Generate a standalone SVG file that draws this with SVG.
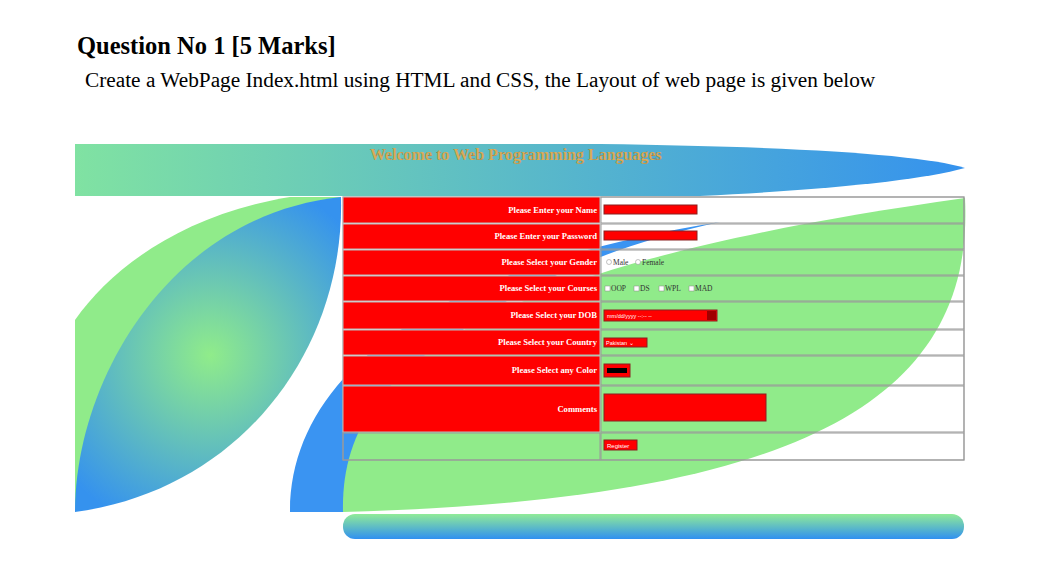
<svg xmlns="http://www.w3.org/2000/svg" width="1063" height="566" viewBox="0 0 1063 566">
<defs>
<linearGradient id="hd" x1="0" y1="0" x2="1" y2="0"><stop offset="0" stop-color="#80e2a2"/><stop offset="1" stop-color="#3592ee"/></linearGradient>
<linearGradient id="bar" x1="0" y1="0" x2="0" y2="1"><stop offset="0" stop-color="#90eb98"/><stop offset="1" stop-color="#3090f0"/></linearGradient>
<radialGradient id="rg" cx="210" cy="355" r="185" gradientUnits="userSpaceOnUse"><stop offset="0" stop-color="#90ec8a"/><stop offset="1" stop-color="#3592ee"/></radialGradient>
<style>
.t{font-family:"Liberation Serif",serif}
.lb{font-family:"Liberation Serif",serif;font-weight:bold;font-size:8.6px;fill:#fff;text-anchor:end}
.rt{font-family:"Liberation Serif",serif;font-size:7.5px;fill:#333}
.red{fill:#ff0000;stroke:#bbb;stroke-width:1}
.cell{fill:none;stroke:#999;stroke-width:1}
.inp{fill:#ff0000;stroke:#8a2020;stroke-width:1}
</style>
</defs>
<rect width="1063" height="566" fill="#fff"/>
<text class="t" x="77" y="54" font-size="24.5" font-weight="bold">Question No 1 [5 Marks]</text>
<text class="t" x="85" y="87" font-size="21.3">Create a WebPage Index.html using HTML and CSS, the Layout of web page is given below</text>
<path d="M75,144 L600,144 Q900,148 965,168 Q900,186 700,196 L75,196 Z" fill="url(#hd)"/>
<text class="t" x="370" y="160" font-size="16" font-weight="bold" fill="#dcae58" stroke="#7a5a30" stroke-width="0.2">Welcome to Web Programming Languages</text>
<path d="M341,197 L290,197 C180,215 110,270 75,320 L75,512 Z" fill="#90eb8a"/>
<path d="M341,197 C170,215 75,380 75,512 C240,490 345,350 341,197 Z" fill="url(#rg)"/>
<path d="M290,512 C290,380 420,270 720,222 C500,270 360,380 343,512 Z" fill="#3a94f2"/>
<path d="M343,512 C340,380 450,270 965,198 C975,400 800,500 343,512 Z" fill="#90eb8a"/>
<rect x="343" y="514" width="621" height="25" rx="12" fill="url(#bar)"/>
<g id="table">
<rect class="cell" x="343" y="197" width="621" height="263"/>
<rect class="red" x="343" y="197" width="257" height="26"/>
<rect class="red" x="343" y="224" width="257" height="25"/>
<rect class="red" x="343" y="250" width="257" height="25"/>
<rect class="red" x="343" y="276" width="257" height="25"/>
<rect class="red" x="343" y="302" width="257" height="27"/>
<rect class="red" x="343" y="330" width="257" height="25"/>
<rect class="red" x="343" y="356" width="257" height="29"/>
<rect class="red" x="343" y="386" width="257" height="46"/>
<rect class="cell" x="343" y="433" width="257" height="27"/>
<rect class="cell" x="601" y="197" width="363" height="26"/>
<rect class="cell" x="601" y="224" width="363" height="25"/>
<rect class="cell" x="601" y="250" width="363" height="25"/>
<rect class="cell" x="601" y="276" width="363" height="25"/>
<rect class="cell" x="601" y="302" width="363" height="27"/>
<rect class="cell" x="601" y="330" width="363" height="25"/>
<rect class="cell" x="601" y="356" width="363" height="29"/>
<rect class="cell" x="601" y="386" width="363" height="46"/>
<rect class="cell" x="601" y="433" width="363" height="27"/>
<text class="lb" x="597" y="213">Please Enter your Name</text>
<text class="lb" x="597" y="239">Please Enter your Password</text>
<text class="lb" x="597" y="265">Please Select your Gender</text>
<text class="lb" x="597" y="291">Please Select your Courses</text>
<text class="lb" x="597" y="318">Please Select your DOB</text>
<text class="lb" x="597" y="345">Please Select your Country</text>
<text class="lb" x="597" y="373">Please Select any Color</text>
<text class="lb" x="597" y="412">Comments</text>
<rect class="inp" x="604" y="205" width="93" height="9"/>
<rect class="inp" x="604" y="231" width="93" height="9"/>
<circle cx="609" cy="262" r="2.5" fill="#fff" stroke="#888" stroke-width="0.5"/>
<text class="rt" x="613" y="265">Male</text>
<circle cx="638" cy="262" r="2.5" fill="#fff" stroke="#888" stroke-width="0.5"/>
<text class="rt" x="642" y="265">Female</text>
<rect x="605" y="286" width="5" height="5" fill="#fff" stroke="#888" stroke-width="0.5"/><text class="rt" x="611" y="291">OOP</text>
<rect x="634" y="286" width="5" height="5" fill="#fff" stroke="#888" stroke-width="0.5"/><text class="rt" x="640" y="291">DS</text>
<rect x="659" y="286" width="5" height="5" fill="#fff" stroke="#888" stroke-width="0.5"/><text class="rt" x="665" y="291">WPL</text>
<rect x="689" y="286" width="5" height="5" fill="#fff" stroke="#888" stroke-width="0.5"/><text class="rt" x="695" y="291">MAD</text>
<rect class="inp" x="604" y="310" width="113" height="11"/>
<rect x="707" y="311" width="9" height="9" fill="#a00000"/>
<text x="607" y="318" font-family="Liberation Sans,sans-serif" font-size="5.5" fill="#fff">mm/dd/yyyy  --:-- --</text>
<rect class="inp" x="604" y="338" width="43" height="9"/>
<text x="606" y="345" font-family="Liberation Sans,sans-serif" font-size="5.5" fill="#fff">Pakistan  ⌄</text>
<rect class="inp" x="604" y="364" width="26" height="13"/>
<rect x="607" y="368" width="20" height="5" fill="#000"/>
<rect class="inp" x="604" y="394" width="162" height="27"/>
<rect class="inp" x="604" y="440" width="33" height="10"/>
<text x="607" y="448" font-family="Liberation Sans,sans-serif" font-size="6" fill="#fff">Register</text>
</g>
</svg>
